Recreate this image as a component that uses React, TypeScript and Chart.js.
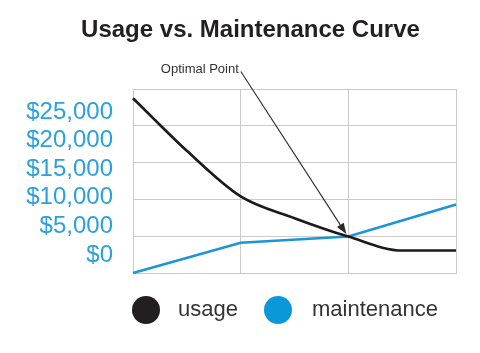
import React, { useEffect, useRef } from "react";
import { Chart, registerables } from "chart.js";

Chart.register(...registerables);

const TITLE = "Usage vs. Maintenance Curve";
const SERIES_NAMES = ["usage", "maintenance"];
const SERIES_COLORS = ["#1c1a1b", "#1a96d6"];
const LEGEND_COLORS = ["#231f20", "#0a98da"];

const USAGE_X = [0, 0.5, 1, 1.5, 2, 2.5, 3];
const USAGE_Y = [23750, 16600, 10400, 7450, 4950, 3050, 3050];

const MAINT_X = [0, 1, 2, 3];
const MAINT_Y = [0, 4100, 4950, 9300];

const X_GRID_TICKS = [0, 1, 2, 3];
const Y_GRID_TICKS = [0, 5000, 10000, 15000, 20000, 25000];

const Y_LABEL_VALUES = [0, 5000, 10000, 15000, 20000, 25000];
const Y_LABEL_TEXT = ["$0", "$5,000", "$10,000", "$15,000", "$20,000", "$25,000"];

const OPTIMAL_X = 2;
const OPTIMAL_Y = 4950;
const OPTIMAL_LABEL = "Optimal Point";

const FONT = "'Liberation Sans', Arial, Helvetica, sans-serif";

const optimalPlugin = {
  id: "optimalPoint",
  afterDatasetsDraw(chart: any) {
    const { ctx, scales } = chart;
    const px = scales.x.getPixelForValue(OPTIMAL_X);
    const py = scales.y.getPixelForValue(OPTIMAL_Y);
    const tipX = px - 2;
    const tipY = py - 2.5;
    const sx = px - 107.5;
    const sy = py - 165;
    const ang = Math.atan2(tipY - sy, tipX - sx);
    const headLen = 11;
    const headHalf = 4;
    const bx = tipX - headLen * Math.cos(ang);
    const by = tipY - headLen * Math.sin(ang);
    ctx.save();
    ctx.strokeStyle = "#2a2a2a";
    ctx.fillStyle = "#2a2a2a";
    ctx.lineWidth = 1.1;
    ctx.beginPath();
    ctx.moveTo(sx, sy);
    ctx.lineTo(bx, by);
    ctx.stroke();
    ctx.beginPath();
    ctx.moveTo(tipX, tipY);
    ctx.lineTo(bx + headHalf * Math.sin(ang), by - headHalf * Math.cos(ang));
    ctx.lineTo(bx - headHalf * Math.sin(ang), by + headHalf * Math.cos(ang));
    ctx.closePath();
    ctx.fill();
    ctx.font = `13px ${FONT}`;
    ctx.fillStyle = "#333333";
    ctx.textAlign = "right";
    ctx.textBaseline = "alphabetic";
    ctx.fillText(OPTIMAL_LABEL, sx - 2, sy + 1);
    ctx.restore();
  },
};

export default function App() {
  const canvasRef = useRef<HTMLCanvasElement | null>(null);

  useEffect(() => {
    if (!canvasRef.current) return;
    const chart = new Chart(canvasRef.current, {
      type: "line",
      data: {
        datasets: [
          {
            label: SERIES_NAMES[0],
            data: USAGE_X.map((x, i) => ({ x, y: USAGE_Y[i] })),
            borderColor: SERIES_COLORS[0],
            backgroundColor: SERIES_COLORS[0],
            borderWidth: 2.6,
            pointRadius: 0,
            cubicInterpolationMode: "monotone",
            clip: false,
            yAxisID: "y",
          },
          {
            label: SERIES_NAMES[1],
            data: MAINT_X.map((x, i) => ({ x, y: MAINT_Y[i] })),
            borderColor: SERIES_COLORS[1],
            backgroundColor: SERIES_COLORS[1],
            borderWidth: 2.6,
            pointRadius: 0,
            tension: 0,
            clip: false,
            yAxisID: "y",
          },
        ],
      },
      options: {
        responsive: false,
        animation: false,
        events: [],
        layout: { padding: { left: 0, right: 24, top: 89, bottom: 80 } },
        plugins: {
          legend: { display: false },
          title: { display: false },
          tooltip: { enabled: false },
        },
        scales: {
          x: {
            type: "linear",
            min: 0,
            max: 3,
            afterBuildTicks: (scale: any) => {
              scale.ticks = X_GRID_TICKS.map((v) => ({ value: v }));
            },
            ticks: { display: false },
            grid: { color: "#cacaca", lineWidth: 1, drawTicks: false },
            border: { color: "#cacaca", width: 1 },
          },
          y: {
            type: "linear",
            position: "left",
            weight: 0,
            min: 0,
            max: 25000,
            afterBuildTicks: (scale: any) => {
              scale.ticks = Y_GRID_TICKS.map((v) => ({ value: v }));
            },
            afterFit: (scale: any) => {
              scale.width = 0;
            },
            ticks: { display: false },
            grid: { color: "#cacaca", lineWidth: 1, drawTicks: false },
            border: { color: "#cacaca", width: 1 },
          },
          yLabels: {
            type: "linear",
            position: "left",
            weight: 1,
            min: -3147,
            max: 29021,
            afterBuildTicks: (scale: any) => {
              scale.ticks = Y_LABEL_VALUES.map((v) => ({ value: v }));
            },
            afterFit: (scale: any) => {
              scale.width = 133;
            },
            ticks: {
              color: "#2aa1dc",
              padding: 20,
              font: { family: FONT, size: 24 },
              callback: (value: any) => {
                const i = Y_LABEL_VALUES.indexOf(Number(value));
                return i >= 0 ? Y_LABEL_TEXT[i] : "";
              },
            },
            grid: { display: false, drawTicks: false },
            border: { display: false },
          },
        },
      },
      plugins: [optimalPlugin],
    } as any);
    return () => chart.destroy();
  }, []);

  const legendItems = [
    { name: SERIES_NAMES[0], color: LEGEND_COLORS[0], cx: 146, tx: 178 },
    { name: SERIES_NAMES[1], color: LEGEND_COLORS[1], cx: 278, tx: 312 },
  ];

  return (
    <div
      style={{
        position: "absolute",
        left: 0,
        top: 0,
        width: 480,
        height: 353,
        background: "#ffffff",
        overflow: "hidden",
        fontFamily: FONT,
      }}
    >
      <canvas
        ref={canvasRef}
        width={480}
        height={353}
        style={{ position: "absolute", left: 0, top: 0, display: "block" }}
      />
      <div
        style={{
          position: "absolute",
          left: 0,
          top: 16.5,
          width: 501,
          textAlign: "center",
          fontSize: 24,
          lineHeight: "24px",
          fontWeight: "bold",
          color: "#231f20",
          whiteSpace: "nowrap",
        }}
      >
        {TITLE}
      </div>
      {legendItems.map((it) => (
        <React.Fragment key={it.name}>
          <div
            style={{
              position: "absolute",
              left: it.cx - 14,
              top: 296,
              width: 28,
              height: 28,
              borderRadius: "50%",
              background: it.color,
            }}
          />
          <div
            style={{
              position: "absolute",
              left: it.tx,
              top: 298,
              fontSize: 22,
              lineHeight: "22px",
              color: "#333333",
              whiteSpace: "nowrap",
            }}
          >
            {it.name}
          </div>
        </React.Fragment>
      ))}
    </div>
  );
}
